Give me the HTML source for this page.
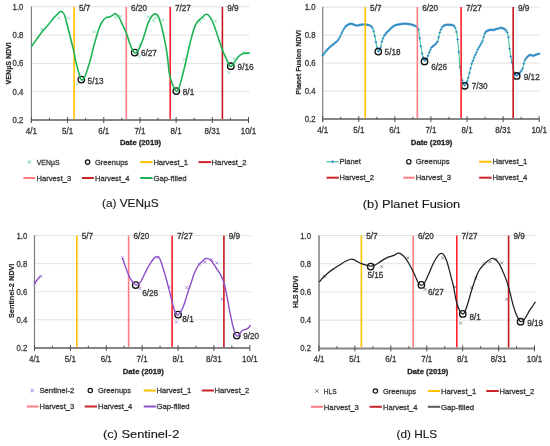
<!DOCTYPE html>
<html><head><meta charset="utf-8"><title>NDVI time series</title>
<style>html,body{margin:0;padding:0;background:#fff;}svg{display:block;filter:blur(0.3px);}</style>
</head><body>
<svg width="550" height="446" viewBox="0 0 550 446" font-family="'Liberation Sans', Arial, sans-serif">
<rect width="550" height="446" fill="#fff"/>
<line x1="31.40" y1="91.70" x2="249.50" y2="91.70" stroke="#E2E2E2" stroke-width="1"/>
<line x1="31.40" y1="63.40" x2="249.50" y2="63.40" stroke="#E2E2E2" stroke-width="1"/>
<line x1="31.40" y1="35.10" x2="249.50" y2="35.10" stroke="#E2E2E2" stroke-width="1"/>
<line x1="31.40" y1="6.80" x2="249.50" y2="6.80" stroke="#E2E2E2" stroke-width="1"/>
<text x="23.40" y="123.05" font-size="8.6" text-anchor="end" fill="#383838" stroke="#383838" stroke-width="0.3" font-weight="normal" textLength="10.8" lengthAdjust="spacingAndGlyphs">0.2</text>
<text x="23.40" y="94.75" font-size="8.6" text-anchor="end" fill="#383838" stroke="#383838" stroke-width="0.3" font-weight="normal" textLength="10.8" lengthAdjust="spacingAndGlyphs">0.4</text>
<text x="23.40" y="66.45" font-size="8.6" text-anchor="end" fill="#383838" stroke="#383838" stroke-width="0.3" font-weight="normal" textLength="10.8" lengthAdjust="spacingAndGlyphs">0.6</text>
<text x="23.40" y="38.15" font-size="8.6" text-anchor="end" fill="#383838" stroke="#383838" stroke-width="0.3" font-weight="normal" textLength="10.8" lengthAdjust="spacingAndGlyphs">0.8</text>
<text x="23.40" y="9.85" font-size="8.6" text-anchor="end" fill="#383838" stroke="#383838" stroke-width="0.3" font-weight="normal" textLength="10.8" lengthAdjust="spacingAndGlyphs">1.0</text>
<line x1="31.40" y1="6.50" x2="31.40" y2="122.50" stroke="#7F7F7F" stroke-width="1.2"/>
<line x1="31.40" y1="120.00" x2="248.50" y2="120.00" stroke="#858585" stroke-width="2"/>
<line x1="31.40" y1="117.00" x2="31.40" y2="123.00" stroke="#505050" stroke-width="1"/>
<line x1="67.58" y1="117.00" x2="67.58" y2="123.00" stroke="#505050" stroke-width="1"/>
<line x1="103.77" y1="117.00" x2="103.77" y2="123.00" stroke="#505050" stroke-width="1"/>
<line x1="139.95" y1="117.00" x2="139.95" y2="123.00" stroke="#505050" stroke-width="1"/>
<line x1="176.13" y1="117.00" x2="176.13" y2="123.00" stroke="#505050" stroke-width="1"/>
<line x1="212.32" y1="117.00" x2="212.32" y2="123.00" stroke="#505050" stroke-width="1"/>
<line x1="248.50" y1="117.00" x2="248.50" y2="123.00" stroke="#505050" stroke-width="1"/>
<line x1="49.49" y1="117.70" x2="49.49" y2="120.00" stroke="#505050" stroke-width="1"/>
<line x1="85.68" y1="117.70" x2="85.68" y2="120.00" stroke="#505050" stroke-width="1"/>
<line x1="121.86" y1="117.70" x2="121.86" y2="120.00" stroke="#505050" stroke-width="1"/>
<line x1="158.04" y1="117.70" x2="158.04" y2="120.00" stroke="#505050" stroke-width="1"/>
<line x1="194.23" y1="117.70" x2="194.23" y2="120.00" stroke="#505050" stroke-width="1"/>
<line x1="230.41" y1="117.70" x2="230.41" y2="120.00" stroke="#505050" stroke-width="1"/>
<text x="31.40" y="133.90" font-size="8.6" text-anchor="middle" fill="#383838" stroke="#383838" stroke-width="0.3" font-weight="normal" textLength="11.1" lengthAdjust="spacingAndGlyphs">4/1</text>
<text x="67.58" y="133.90" font-size="8.6" text-anchor="middle" fill="#383838" stroke="#383838" stroke-width="0.3" font-weight="normal" textLength="11.1" lengthAdjust="spacingAndGlyphs">5/1</text>
<text x="103.77" y="133.90" font-size="8.6" text-anchor="middle" fill="#383838" stroke="#383838" stroke-width="0.3" font-weight="normal" textLength="11.1" lengthAdjust="spacingAndGlyphs">6/1</text>
<text x="139.95" y="133.90" font-size="8.6" text-anchor="middle" fill="#383838" stroke="#383838" stroke-width="0.3" font-weight="normal" textLength="11.1" lengthAdjust="spacingAndGlyphs">7/1</text>
<text x="176.13" y="133.90" font-size="8.6" text-anchor="middle" fill="#383838" stroke="#383838" stroke-width="0.3" font-weight="normal" textLength="11.1" lengthAdjust="spacingAndGlyphs">8/1</text>
<text x="212.32" y="133.90" font-size="8.6" text-anchor="middle" fill="#383838" stroke="#383838" stroke-width="0.3" font-weight="normal" textLength="15.6" lengthAdjust="spacingAndGlyphs">8/31</text>
<text x="248.50" y="133.90" font-size="8.6" text-anchor="middle" fill="#383838" stroke="#383838" stroke-width="0.3" font-weight="normal" textLength="15.6" lengthAdjust="spacingAndGlyphs">10/1</text>
<text x="140.50" y="145.20" font-size="7.6" text-anchor="middle" fill="#262626" stroke="#262626" stroke-width="0.3" font-weight="bold" textLength="41.0" lengthAdjust="spacingAndGlyphs">Date (2019)</text>
<text x="0" y="0" font-size="8" font-weight="bold" fill="#262626" stroke="#262626" stroke-width="0.2" text-anchor="middle" transform="translate(10.60,63.30) rotate(-90)" textLength="42.2" lengthAdjust="spacingAndGlyphs">VENµS NDVI</text>
<path d="M40.30,27.70L43.30,30.70M40.30,30.70L43.30,27.70" stroke="#7CD8AE" stroke-width="0.8" fill="none"/>
<path d="M57.30,16.60L60.30,19.60M57.30,19.60L60.30,16.60" stroke="#7CD8AE" stroke-width="0.8" fill="none"/>
<path d="M67.00,16.60L70.00,19.60M67.00,19.60L70.00,16.60" stroke="#7CD8AE" stroke-width="0.8" fill="none"/>
<path d="M92.70,30.20L95.70,33.20M92.70,33.20L95.70,30.20" stroke="#7CD8AE" stroke-width="0.8" fill="none"/>
<path d="M75.70,82.40L78.70,85.40M75.70,85.40L78.70,82.40" stroke="#7CD8AE" stroke-width="0.8" fill="none"/>
<path d="M114.10,15.90L117.10,18.90M114.10,18.90L117.10,15.90" stroke="#7CD8AE" stroke-width="0.8" fill="none"/>
<path d="M119.10,14.90L122.10,17.90M119.10,17.90L122.10,14.90" stroke="#7CD8AE" stroke-width="0.8" fill="none"/>
<path d="M138.80,42.70L141.80,45.70M138.80,45.70L141.80,42.70" stroke="#7CD8AE" stroke-width="0.8" fill="none"/>
<path d="M137.80,54.80L140.80,57.80M137.80,57.80L140.80,54.80" stroke="#7CD8AE" stroke-width="0.8" fill="none"/>
<path d="M147.10,15.40L150.10,18.40M147.10,18.40L150.10,15.40" stroke="#7CD8AE" stroke-width="0.8" fill="none"/>
<path d="M152.00,19.10L155.00,22.10M152.00,22.10L155.00,19.10" stroke="#7CD8AE" stroke-width="0.8" fill="none"/>
<path d="M154.10,16.30L157.10,19.30M154.10,19.30L157.10,16.30" stroke="#7CD8AE" stroke-width="0.8" fill="none"/>
<path d="M161.70,18.40L164.70,21.40M161.70,21.40L164.70,18.40" stroke="#7CD8AE" stroke-width="0.8" fill="none"/>
<path d="M183.00,58.10L186.00,61.10M183.00,61.10L186.00,58.10" stroke="#7CD8AE" stroke-width="0.8" fill="none"/>
<path d="M198.30,20.30L201.30,23.30M198.30,23.30L201.30,20.30" stroke="#7CD8AE" stroke-width="0.8" fill="none"/>
<path d="M202.00,16.70L205.00,19.70M202.00,19.70L205.00,16.70" stroke="#7CD8AE" stroke-width="0.8" fill="none"/>
<path d="M213.90,19.60L216.90,22.60M213.90,22.60L216.90,19.60" stroke="#7CD8AE" stroke-width="0.8" fill="none"/>
<path d="M232.50,57.40L235.50,60.40M232.50,60.40L235.50,57.40" stroke="#7CD8AE" stroke-width="0.8" fill="none"/>
<path d="M242.00,50.60L245.00,53.60M242.00,53.60L245.00,50.60" stroke="#7CD8AE" stroke-width="0.8" fill="none"/>
<path d="M227.40,70.90L230.40,73.90M227.40,73.90L230.40,70.90" stroke="#7CD8AE" stroke-width="0.8" fill="none"/>
<circle cx="81.30" cy="79.60" r="3.2" stroke="#111" stroke-width="1.35" fill="none"/>
<circle cx="134.70" cy="52.60" r="3.2" stroke="#111" stroke-width="1.35" fill="none"/>
<circle cx="176.30" cy="91.10" r="3.2" stroke="#111" stroke-width="1.35" fill="none"/>
<circle cx="230.80" cy="66.20" r="3.2" stroke="#111" stroke-width="1.35" fill="none"/>
<line x1="74.11" y1="6.80" x2="74.11" y2="119.00" stroke="#FFC000" stroke-width="1.6"/>
<line x1="126.31" y1="6.80" x2="126.31" y2="119.00" stroke="#FF7C84" stroke-width="1.6"/>
<line x1="170.20" y1="6.80" x2="170.20" y2="119.00" stroke="#FF1F28" stroke-width="1.6"/>
<line x1="222.40" y1="6.80" x2="222.40" y2="119.00" stroke="#C8161D" stroke-width="1.6"/>
<path d="M31.50,46.50 C32.40,45.23 35.07,41.43 36.90,38.90 C38.73,36.37 40.63,33.62 42.50,31.30 C44.37,28.98 46.25,27.20 48.10,25.00 C49.95,22.80 51.98,19.95 53.60,18.10 C55.22,16.25 56.63,15.02 57.80,13.90 C58.97,12.78 59.57,11.38 60.60,11.40 C61.63,11.42 62.98,12.07 64.00,14.00 C65.02,15.93 65.80,19.72 66.70,23.00 C67.60,26.28 68.50,30.12 69.40,33.70 C70.30,37.28 71.35,41.50 72.10,44.50 C72.85,47.50 73.32,49.00 73.90,51.70 C74.48,54.40 75.02,58.02 75.60,60.70 C76.18,63.38 76.80,65.57 77.40,67.80 C78.00,70.03 78.55,72.08 79.20,74.10 C79.85,76.12 80.45,79.33 81.30,79.90 C82.15,80.47 83.28,79.23 84.30,77.50 C85.32,75.77 86.35,72.58 87.40,69.50 C88.45,66.42 89.55,62.85 90.60,59.00 C91.65,55.15 92.67,50.33 93.70,46.40 C94.73,42.47 95.75,38.80 96.80,35.40 C97.85,32.00 98.95,28.48 100.00,26.00 C101.05,23.52 102.05,21.90 103.10,20.50 C104.15,19.10 105.20,18.20 106.30,17.60 C107.40,17.00 108.67,17.28 109.70,16.90 C110.73,16.52 111.62,15.87 112.50,15.30 C113.38,14.73 114.07,13.38 115.00,13.50 C115.93,13.62 117.13,14.78 118.10,16.00 C119.07,17.22 119.88,18.95 120.80,20.80 C121.72,22.65 122.67,25.02 123.60,27.10 C124.53,29.18 125.47,30.87 126.40,33.30 C127.33,35.73 128.28,39.15 129.20,41.70 C130.12,44.25 130.98,46.75 131.90,48.60 C132.82,50.45 133.77,52.33 134.70,52.80 C135.63,53.27 136.45,52.80 137.50,51.40 C138.55,50.00 139.85,47.18 141.00,44.40 C142.15,41.62 143.25,38.17 144.40,34.70 C145.55,31.23 146.73,26.60 147.90,23.60 C149.07,20.60 150.23,18.32 151.40,16.70 C152.57,15.08 153.87,14.13 154.90,13.90 C155.93,13.67 156.68,13.92 157.60,15.30 C158.52,16.68 159.47,19.20 160.40,22.20 C161.33,25.20 162.27,29.13 163.20,33.30 C164.13,37.47 165.23,42.75 166.00,47.20 C166.77,51.65 167.23,55.55 167.80,60.00 C168.37,64.45 168.67,69.97 169.40,73.90 C170.13,77.83 171.37,81.15 172.20,83.60 C173.03,86.05 173.68,87.30 174.40,88.60 C175.12,89.90 175.78,91.40 176.50,91.40 C177.22,91.40 177.85,90.68 178.70,88.60 C179.55,86.52 180.63,82.45 181.60,78.90 C182.57,75.35 183.65,70.78 184.50,67.30 C185.35,63.82 185.97,61.22 186.70,58.00 C187.43,54.78 188.05,51.60 188.90,48.00 C189.75,44.40 190.83,39.92 191.80,36.40 C192.77,32.88 193.73,29.38 194.70,26.90 C195.67,24.42 196.63,22.83 197.60,21.50 C198.57,20.17 199.52,19.82 200.50,18.90 C201.48,17.98 202.57,16.77 203.50,16.00 C204.43,15.23 205.27,14.42 206.10,14.30 C206.93,14.18 207.60,14.42 208.50,15.30 C209.40,16.18 210.52,17.78 211.50,19.60 C212.48,21.42 213.43,23.65 214.40,26.20 C215.37,28.75 216.33,32.00 217.30,34.90 C218.27,37.80 219.23,40.82 220.20,43.60 C221.17,46.38 222.13,49.17 223.10,51.60 C224.07,54.03 225.03,56.07 226.00,58.20 C226.97,60.33 228.10,63.02 228.90,64.40 C229.70,65.78 230.03,66.65 230.80,66.50 C231.57,66.35 232.60,64.62 233.50,63.50 C234.40,62.38 235.38,60.93 236.20,59.80 C237.02,58.67 237.32,57.70 238.40,56.70 C239.48,55.70 241.25,54.40 242.70,53.80 C244.15,53.20 245.88,53.22 247.10,53.10 C248.32,52.98 249.52,53.10 250.00,53.10" stroke="#1DB355" stroke-width="1.6" fill="none"/>
<text x="78.91" y="10.50" font-size="8.6" text-anchor="start" fill="#333" stroke="#333" stroke-width="0.3" font-weight="normal" textLength="11.4" lengthAdjust="spacingAndGlyphs">5/7</text>
<text x="131.11" y="10.50" font-size="8.6" text-anchor="start" fill="#333" stroke="#333" stroke-width="0.3" font-weight="normal" textLength="15.9" lengthAdjust="spacingAndGlyphs">6/20</text>
<text x="175.00" y="10.50" font-size="8.6" text-anchor="start" fill="#333" stroke="#333" stroke-width="0.3" font-weight="normal" textLength="15.9" lengthAdjust="spacingAndGlyphs">7/27</text>
<text x="227.20" y="10.50" font-size="8.6" text-anchor="start" fill="#333" stroke="#333" stroke-width="0.3" font-weight="normal" textLength="11.4" lengthAdjust="spacingAndGlyphs">9/9</text>
<text x="87.60" y="83.65" font-size="8.6" text-anchor="start" fill="#333" stroke="#333" stroke-width="0.3" font-weight="normal" textLength="15.9" lengthAdjust="spacingAndGlyphs">5/13</text>
<text x="141.00" y="55.55" font-size="8.6" text-anchor="start" fill="#333" stroke="#333" stroke-width="0.3" font-weight="normal" textLength="15.9" lengthAdjust="spacingAndGlyphs">6/27</text>
<text x="182.80" y="94.75" font-size="8.6" text-anchor="start" fill="#333" stroke="#333" stroke-width="0.3" font-weight="normal" textLength="11.4" lengthAdjust="spacingAndGlyphs">8/1</text>
<text x="237.60" y="69.55" font-size="8.6" text-anchor="start" fill="#333" stroke="#333" stroke-width="0.3" font-weight="normal" textLength="15.9" lengthAdjust="spacingAndGlyphs">9/16</text>
<path d="M27.90,160.50L31.10,163.70M27.90,163.70L31.10,160.50" stroke="#5CCF98" stroke-width="1.0" fill="none"/>
<text x="36.70" y="164.80" font-size="7.6" text-anchor="start" fill="#383838" stroke="#383838" stroke-width="0.3" font-weight="normal" textLength="22.9" lengthAdjust="spacingAndGlyphs">VENµS</text>
<circle cx="87.60" cy="162.10" r="2.2" stroke="#111" stroke-width="1.2" fill="none"/>
<text x="95.00" y="164.80" font-size="7.6" text-anchor="start" fill="#383838" stroke="#383838" stroke-width="0.3" font-weight="normal" textLength="33.1" lengthAdjust="spacingAndGlyphs">Greenups</text>
<line x1="140.20" y1="162.10" x2="152.60" y2="162.10" stroke="#FFC000" stroke-width="2"/>
<text x="153.40" y="164.80" font-size="7.6" text-anchor="start" fill="#383838" stroke="#383838" stroke-width="0.3" font-weight="normal" textLength="34.6" lengthAdjust="spacingAndGlyphs">Harvest_1</text>
<line x1="198.50" y1="162.10" x2="211.20" y2="162.10" stroke="#CC2229" stroke-width="2"/>
<text x="211.60" y="164.80" font-size="7.6" text-anchor="start" fill="#383838" stroke="#383838" stroke-width="0.3" font-weight="normal" textLength="34.9" lengthAdjust="spacingAndGlyphs">Harvest_2</text>
<line x1="23.40" y1="178.00" x2="35.20" y2="178.00" stroke="#FF7C84" stroke-width="2"/>
<text x="36.60" y="180.70" font-size="7.6" text-anchor="start" fill="#383838" stroke="#383838" stroke-width="0.3" font-weight="normal" textLength="34.6" lengthAdjust="spacingAndGlyphs">Harvest_3</text>
<line x1="82.00" y1="178.00" x2="93.80" y2="178.00" stroke="#C8242C" stroke-width="2"/>
<text x="95.00" y="180.70" font-size="7.6" text-anchor="start" fill="#383838" stroke="#383838" stroke-width="0.3" font-weight="normal" textLength="34.4" lengthAdjust="spacingAndGlyphs">Harvest_4</text>
<line x1="140.20" y1="178.00" x2="152.60" y2="178.00" stroke="#1DB355" stroke-width="2"/>
<text x="153.40" y="180.70" font-size="7.6" text-anchor="start" fill="#383838" stroke="#383838" stroke-width="0.3" font-weight="normal" textLength="33.1" lengthAdjust="spacingAndGlyphs">Gap-filled</text>
<text x="130.30" y="207.20" font-size="11.8" text-anchor="middle" fill="#151515" stroke="#151515" stroke-width="0.12" font-weight="normal" textLength="56.6" lengthAdjust="spacingAndGlyphs">(a) VENµS</text>
<line x1="322.70" y1="91.10" x2="540.20" y2="91.10" stroke="#E2E2E2" stroke-width="1"/>
<line x1="322.70" y1="63.10" x2="540.20" y2="63.10" stroke="#E2E2E2" stroke-width="1"/>
<line x1="322.70" y1="35.10" x2="540.20" y2="35.10" stroke="#E2E2E2" stroke-width="1"/>
<line x1="322.70" y1="7.10" x2="540.20" y2="7.10" stroke="#E2E2E2" stroke-width="1"/>
<text x="315.50" y="122.15" font-size="8.6" text-anchor="end" fill="#383838" stroke="#383838" stroke-width="0.3" font-weight="normal" textLength="10.8" lengthAdjust="spacingAndGlyphs">0.2</text>
<text x="315.50" y="94.15" font-size="8.6" text-anchor="end" fill="#383838" stroke="#383838" stroke-width="0.3" font-weight="normal" textLength="10.8" lengthAdjust="spacingAndGlyphs">0.4</text>
<text x="315.50" y="66.15" font-size="8.6" text-anchor="end" fill="#383838" stroke="#383838" stroke-width="0.3" font-weight="normal" textLength="10.8" lengthAdjust="spacingAndGlyphs">0.6</text>
<text x="315.50" y="38.15" font-size="8.6" text-anchor="end" fill="#383838" stroke="#383838" stroke-width="0.3" font-weight="normal" textLength="10.8" lengthAdjust="spacingAndGlyphs">0.8</text>
<text x="315.50" y="10.15" font-size="8.6" text-anchor="end" fill="#383838" stroke="#383838" stroke-width="0.3" font-weight="normal" textLength="10.8" lengthAdjust="spacingAndGlyphs">1.0</text>
<line x1="322.70" y1="6.80" x2="322.70" y2="121.60" stroke="#7F7F7F" stroke-width="1.2"/>
<line x1="322.70" y1="119.10" x2="539.20" y2="119.10" stroke="#858585" stroke-width="2"/>
<line x1="322.70" y1="116.10" x2="322.70" y2="122.10" stroke="#505050" stroke-width="1"/>
<line x1="358.78" y1="116.10" x2="358.78" y2="122.10" stroke="#505050" stroke-width="1"/>
<line x1="394.87" y1="116.10" x2="394.87" y2="122.10" stroke="#505050" stroke-width="1"/>
<line x1="430.95" y1="116.10" x2="430.95" y2="122.10" stroke="#505050" stroke-width="1"/>
<line x1="467.03" y1="116.10" x2="467.03" y2="122.10" stroke="#505050" stroke-width="1"/>
<line x1="503.12" y1="116.10" x2="503.12" y2="122.10" stroke="#505050" stroke-width="1"/>
<line x1="539.20" y1="116.10" x2="539.20" y2="122.10" stroke="#505050" stroke-width="1"/>
<line x1="340.74" y1="116.80" x2="340.74" y2="119.10" stroke="#505050" stroke-width="1"/>
<line x1="376.82" y1="116.80" x2="376.82" y2="119.10" stroke="#505050" stroke-width="1"/>
<line x1="412.91" y1="116.80" x2="412.91" y2="119.10" stroke="#505050" stroke-width="1"/>
<line x1="448.99" y1="116.80" x2="448.99" y2="119.10" stroke="#505050" stroke-width="1"/>
<line x1="485.08" y1="116.80" x2="485.08" y2="119.10" stroke="#505050" stroke-width="1"/>
<line x1="521.16" y1="116.80" x2="521.16" y2="119.10" stroke="#505050" stroke-width="1"/>
<text x="322.70" y="133.00" font-size="8.6" text-anchor="middle" fill="#383838" stroke="#383838" stroke-width="0.3" font-weight="normal" textLength="11.1" lengthAdjust="spacingAndGlyphs">4/1</text>
<text x="358.78" y="133.00" font-size="8.6" text-anchor="middle" fill="#383838" stroke="#383838" stroke-width="0.3" font-weight="normal" textLength="11.1" lengthAdjust="spacingAndGlyphs">5/1</text>
<text x="394.87" y="133.00" font-size="8.6" text-anchor="middle" fill="#383838" stroke="#383838" stroke-width="0.3" font-weight="normal" textLength="11.1" lengthAdjust="spacingAndGlyphs">6/1</text>
<text x="430.95" y="133.00" font-size="8.6" text-anchor="middle" fill="#383838" stroke="#383838" stroke-width="0.3" font-weight="normal" textLength="11.1" lengthAdjust="spacingAndGlyphs">7/1</text>
<text x="467.03" y="133.00" font-size="8.6" text-anchor="middle" fill="#383838" stroke="#383838" stroke-width="0.3" font-weight="normal" textLength="11.1" lengthAdjust="spacingAndGlyphs">8/1</text>
<text x="503.12" y="133.00" font-size="8.6" text-anchor="middle" fill="#383838" stroke="#383838" stroke-width="0.3" font-weight="normal" textLength="15.6" lengthAdjust="spacingAndGlyphs">8/31</text>
<text x="539.20" y="133.00" font-size="8.6" text-anchor="middle" fill="#383838" stroke="#383838" stroke-width="0.3" font-weight="normal" textLength="15.6" lengthAdjust="spacingAndGlyphs">10/1</text>
<text x="431.60" y="144.90" font-size="7.6" text-anchor="middle" fill="#262626" stroke="#262626" stroke-width="0.3" font-weight="bold" textLength="41.5" lengthAdjust="spacingAndGlyphs">Date (2019)</text>
<text x="0" y="0" font-size="8" font-weight="bold" fill="#262626" stroke="#262626" stroke-width="0.2" text-anchor="middle" transform="translate(301.10,62.35) rotate(-90)" textLength="64.7" lengthAdjust="spacingAndGlyphs">Planet Fusion NDVI</text>
<path d="M322.70,55.60 C323.18,54.90 324.43,52.80 325.60,51.40 C326.77,50.00 328.32,48.47 329.70,47.20 C331.08,45.93 332.62,44.83 333.90,43.80 C335.18,42.77 336.37,42.17 337.40,41.00 C338.43,39.83 339.30,38.32 340.10,36.80 C340.90,35.28 341.38,33.52 342.20,31.90 C343.02,30.28 344.07,28.30 345.00,27.10 C345.93,25.90 346.76,25.28 347.80,24.70 C348.84,24.12 350.22,23.60 351.25,23.60 C352.28,23.60 353.07,24.35 354.00,24.70 C354.93,25.05 355.87,25.65 356.80,25.70 C357.73,25.75 358.57,25.22 359.60,25.00 C360.63,24.78 361.73,24.45 363.00,24.40 C364.27,24.35 365.92,24.48 367.20,24.70 C368.48,24.92 369.77,25.07 370.70,25.70 C371.63,26.33 372.22,27.23 372.80,28.50 C373.38,29.77 373.73,31.33 374.20,33.30 C374.67,35.27 375.15,37.98 375.60,40.30 C376.05,42.62 376.45,45.37 376.90,47.20 C377.35,49.03 377.72,51.07 378.30,51.30 C378.88,51.53 379.82,50.20 380.40,48.60 C380.98,47.00 381.22,43.78 381.80,41.70 C382.38,39.62 383.08,37.62 383.90,36.10 C384.72,34.58 385.78,33.63 386.70,32.60 C387.62,31.57 388.48,30.82 389.40,29.90 C390.32,28.98 391.17,27.92 392.20,27.10 C393.23,26.28 394.35,25.47 395.60,25.00 C396.85,24.53 398.32,24.53 399.70,24.30 C401.08,24.07 402.52,23.67 403.90,23.60 C405.28,23.53 406.62,23.72 408.00,23.90 C409.38,24.08 410.80,24.28 412.20,24.70 C413.60,25.12 415.35,25.65 416.40,26.40 C417.45,27.15 418.00,27.58 418.50,29.20 C419.00,30.82 419.05,33.57 419.40,36.10 C419.75,38.63 420.18,41.62 420.60,44.40 C421.02,47.18 421.40,50.48 421.90,52.80 C422.40,55.12 423.13,56.93 423.60,58.30 C424.07,59.67 424.22,60.88 424.70,61.00 C425.18,61.12 426.03,59.67 426.50,59.00 C426.97,58.33 426.98,58.27 427.50,57.00 C428.02,55.73 428.90,53.03 429.60,51.40 C430.30,49.77 430.90,48.25 431.70,47.20 C432.50,46.15 433.48,45.90 434.40,45.10 C435.32,44.30 436.50,43.67 437.20,42.40 C437.90,41.13 438.13,39.25 438.60,37.50 C439.07,35.75 439.42,33.63 440.00,31.90 C440.58,30.17 441.28,28.25 442.10,27.10 C442.92,25.95 443.87,25.40 444.90,25.00 C445.93,24.60 447.03,24.70 448.30,24.70 C449.57,24.70 451.45,24.72 452.50,25.00 C453.55,25.28 454.02,25.58 454.60,26.40 C455.18,27.22 455.57,28.28 456.00,29.90 C456.43,31.52 456.85,33.68 457.20,36.10 C457.55,38.52 457.80,41.25 458.10,44.40 C458.40,47.55 458.70,51.28 459.00,55.00 C459.30,58.72 459.52,63.37 459.90,66.70 C460.27,70.03 460.80,72.47 461.25,75.00 C461.70,77.53 462.03,80.13 462.60,81.90 C463.18,83.67 463.88,85.82 464.70,85.60 C465.52,85.38 466.80,82.37 467.50,80.60 C468.20,78.83 468.43,76.87 468.90,75.00 C469.37,73.13 469.83,71.25 470.30,69.40 C470.77,67.55 471.02,65.97 471.70,63.90 C472.38,61.83 473.43,59.32 474.40,57.00 C475.37,54.68 476.45,52.10 477.50,50.00 C478.55,47.90 479.82,46.02 480.70,44.40 C481.58,42.78 482.22,41.92 482.80,40.30 C483.38,38.68 483.62,36.21 484.20,34.70 C484.77,33.19 485.33,32.05 486.25,31.25 C487.17,30.45 488.43,30.12 489.70,29.90 C490.97,29.67 492.50,30.13 493.90,29.90 C495.30,29.67 496.83,28.85 498.10,28.50 C499.37,28.15 500.35,27.68 501.50,27.80 C502.65,27.92 504.07,28.52 505.00,29.20 C505.93,29.88 506.52,30.52 507.10,31.90 C507.68,33.28 508.15,35.18 508.50,37.50 C508.85,39.82 508.85,42.78 509.20,45.80 C509.55,48.82 510.22,53.23 510.60,55.60 C510.98,57.97 511.17,58.38 511.50,60.00 C511.83,61.62 512.07,62.92 512.60,65.30 C513.13,67.68 514.00,72.57 514.70,74.30 C515.40,76.03 515.87,76.05 516.80,75.70 C517.73,75.35 519.37,73.25 520.30,72.20 C521.23,71.15 521.82,70.78 522.40,69.40 C522.98,68.02 523.30,65.52 523.75,63.90 C524.20,62.28 524.41,60.98 525.10,59.70 C525.79,58.43 527.08,57.05 527.90,56.25 C528.72,55.45 529.12,54.98 530.00,54.90 C530.88,54.82 532.08,55.88 533.20,55.80 C534.32,55.72 535.57,54.78 536.70,54.40 C537.83,54.02 539.45,53.65 540.00,53.50" stroke="#44C6A0" stroke-width="1.1" fill="none"/>
<path d="M321.40,55.60h2.6M322.70,54.30v2.6M322.58,53.89h2.6M323.88,52.59v2.6M323.77,52.17h2.6M325.07,50.87v2.6M324.95,50.73h2.6M326.25,49.43v2.6M326.13,49.52h2.6M327.43,48.22v2.6M327.32,48.31h2.6M328.62,47.01v2.6M328.50,47.12h2.6M329.80,45.82v2.6M329.68,46.16h2.6M330.98,44.86v2.6M330.86,45.20h2.6M332.16,43.90v2.6M332.05,44.25h2.6M333.35,42.95v2.6M333.23,43.30h2.6M334.53,42.00v2.6M334.41,42.35h2.6M335.71,41.05v2.6M335.60,41.40h2.6M336.90,40.10v2.6M336.78,39.94h2.6M338.08,38.64v2.6M337.96,38.10h2.6M339.26,36.80v2.6M339.15,35.99h2.6M340.45,34.69v2.6M340.33,33.23h2.6M341.63,31.93v2.6M341.51,30.85h2.6M342.81,29.55v2.6M342.70,28.82h2.6M344.00,27.52v2.6M343.88,26.95h2.6M345.18,25.65v2.6M345.06,25.93h2.6M346.36,24.63v2.6M346.24,24.92h2.6M347.54,23.62v2.6M347.43,24.40h2.6M348.73,23.10v2.6M348.61,24.03h2.6M349.91,22.73v2.6M349.79,23.65h2.6M351.09,22.35v2.6M350.98,24.01h2.6M352.28,22.71v2.6M352.16,24.48h2.6M353.46,23.18v2.6M353.34,24.93h2.6M354.64,23.63v2.6M354.53,25.35h2.6M355.83,24.05v2.6M355.71,25.65h2.6M357.01,24.35v2.6M356.89,25.35h2.6M358.19,24.05v2.6M358.07,25.06h2.6M359.37,23.76v2.6M359.26,24.83h2.6M360.56,23.53v2.6M360.44,24.62h2.6M361.74,23.32v2.6M361.62,24.41h2.6M362.92,23.11v2.6M362.81,24.48h2.6M364.11,23.18v2.6M363.99,24.56h2.6M365.29,23.26v2.6M365.17,24.65h2.6M366.47,23.35v2.6M366.36,24.83h2.6M367.66,23.53v2.6M367.54,25.17h2.6M368.84,23.87v2.6M368.72,25.51h2.6M370.02,24.21v2.6M369.91,26.37h2.6M371.21,25.07v2.6M371.09,27.95h2.6M372.39,26.65v2.6M372.27,31.15h2.6M373.57,29.85v2.6M373.45,36.07h2.6M374.75,34.77v2.6M374.64,42.09h2.6M375.94,40.79v2.6M375.82,47.85h2.6M377.12,46.55v2.6M377.00,51.30h2.6M378.30,50.00v2.6M378.19,49.77h2.6M379.49,48.47v2.6M379.37,47.27h2.6M380.67,45.97v2.6M380.55,41.56h2.6M381.85,40.26v2.6M381.74,38.40h2.6M383.04,37.10v2.6M382.92,35.70h2.6M384.22,34.40v2.6M384.10,34.22h2.6M385.40,32.92v2.6M385.29,32.74h2.6M386.59,31.44v2.6M386.47,31.53h2.6M387.77,30.23v2.6M387.65,30.35h2.6M388.95,29.05v2.6M388.83,29.17h2.6M390.13,27.87v2.6M390.02,27.98h2.6M391.32,26.68v2.6M391.20,26.91h2.6M392.50,25.61v2.6M392.38,26.18h2.6M393.68,24.88v2.6M393.57,25.45h2.6M394.87,24.15v2.6M394.75,24.92h2.6M396.05,23.62v2.6M395.93,24.72h2.6M397.23,23.42v2.6M397.12,24.52h2.6M398.42,23.22v2.6M398.30,24.32h2.6M399.60,23.02v2.6M399.48,24.12h2.6M400.78,22.82v2.6M400.67,23.92h2.6M401.97,22.62v2.6M401.85,23.73h2.6M403.15,22.43v2.6M403.03,23.63h2.6M404.33,22.33v2.6M404.21,23.72h2.6M405.51,22.42v2.6M405.40,23.80h2.6M406.70,22.50v2.6M406.58,23.89h2.6M407.88,22.59v2.6M407.76,24.10h2.6M409.06,22.80v2.6M408.95,24.33h2.6M410.25,23.03v2.6M410.13,24.55h2.6M411.43,23.25v2.6M411.31,24.87h2.6M412.61,23.57v2.6M412.50,25.35h2.6M413.80,24.05v2.6M413.68,25.82h2.6M414.98,24.52v2.6M414.86,26.30h2.6M416.16,25.00v2.6M416.04,27.66h2.6M417.34,26.36v2.6M417.23,29.41h2.6M418.53,28.11v2.6M418.41,38.25h2.6M419.71,36.95v2.6M419.59,46.30h2.6M420.89,45.00v2.6M420.78,53.37h2.6M422.08,52.07v2.6M421.96,57.20h2.6M423.26,55.90v2.6M423.14,60.37h2.6M424.44,59.07v2.6M424.33,59.97h2.6M425.63,58.67v2.6M425.51,58.38h2.6M426.81,57.08v2.6M426.69,55.69h2.6M427.99,54.39v2.6M427.88,52.53h2.6M429.18,51.23v2.6M429.06,49.88h2.6M430.36,48.58v2.6M430.24,47.52h2.6M431.54,46.22v2.6M431.42,46.40h2.6M432.72,45.10v2.6M432.61,45.48h2.6M433.91,44.18v2.6M433.79,44.43h2.6M435.09,43.13v2.6M434.97,43.29h2.6M436.27,41.99v2.6M436.16,41.50h2.6M437.46,40.20v2.6M437.34,37.34h2.6M438.64,36.04v2.6M438.52,32.61h2.6M439.82,31.31v2.6M439.71,29.60h2.6M441.01,28.30v2.6M440.89,27.03h2.6M442.19,25.73v2.6M442.07,26.15h2.6M443.37,24.85v2.6M443.26,25.26h2.6M444.56,23.96v2.6M444.44,24.93h2.6M445.74,23.63v2.6M445.62,24.82h2.6M446.92,23.52v2.6M446.80,24.72h2.6M448.10,23.42v2.6M447.99,24.77h2.6M449.29,23.47v2.6M449.17,24.86h2.6M450.47,23.56v2.6M450.35,24.94h2.6M451.65,23.64v2.6M451.54,25.22h2.6M452.84,23.92v2.6M452.72,26.01h2.6M454.02,24.71v2.6M453.90,27.91h2.6M455.20,26.61v2.6M455.09,31.89h2.6M456.39,30.59v2.6M456.27,39.50h2.6M457.57,38.20v2.6M457.45,52.08h2.6M458.75,50.78v2.6M458.63,66.92h2.6M459.93,65.62v2.6M459.82,74.19h2.6M461.12,72.89v2.6M461.00,80.37h2.6M462.30,79.07v2.6M462.18,83.46h2.6M463.48,82.16v2.6M463.37,85.54h2.6M464.67,84.24v2.6M464.55,83.55h2.6M465.85,82.25v2.6M465.73,81.43h2.6M467.03,80.13v2.6M466.92,77.73h2.6M468.22,76.43v2.6M468.10,73.00h2.6M469.40,71.70v2.6M469.28,68.29h2.6M470.58,66.99v2.6M470.47,63.73h2.6M471.77,62.43v2.6M471.65,60.71h2.6M472.95,59.41v2.6M472.83,57.69h2.6M474.13,56.39v2.6M474.01,54.93h2.6M475.31,53.63v2.6M475.20,52.26h2.6M476.50,50.96v2.6M476.38,49.68h2.6M477.68,48.38v2.6M477.56,47.61h2.6M478.86,46.31v2.6M478.75,45.54h2.6M480.05,44.24v2.6M479.93,43.37h2.6M481.23,42.07v2.6M481.11,41.06h2.6M482.41,39.76v2.6M482.30,37.12h2.6M483.60,35.82v2.6M483.48,33.73h2.6M484.78,32.43v2.6M484.66,31.73h2.6M485.96,30.43v2.6M485.85,30.90h2.6M487.15,29.60v2.6M487.03,30.44h2.6M488.33,29.14v2.6M488.21,29.97h2.6M489.51,28.67v2.6M489.39,29.90h2.6M490.69,28.60v2.6M490.58,29.90h2.6M491.88,28.60v2.6M491.76,29.90h2.6M493.06,28.60v2.6M492.94,29.79h2.6M494.24,28.49v2.6M494.13,29.39h2.6M495.43,28.09v2.6M495.31,29.00h2.6M496.61,27.70v2.6M496.49,28.60h2.6M497.79,27.30v2.6M497.68,28.32h2.6M498.98,27.02v2.6M498.86,28.08h2.6M500.16,26.78v2.6M500.04,27.83h2.6M501.34,26.53v2.6M501.23,28.21h2.6M502.53,26.91v2.6M502.41,28.68h2.6M503.71,27.38v2.6M503.59,29.16h2.6M504.89,27.86v2.6M504.77,30.58h2.6M506.07,29.28v2.6M505.96,32.53h2.6M507.26,31.23v2.6M507.14,37.26h2.6M508.44,35.96v2.6M508.32,48.76h2.6M509.62,47.46v2.6M509.51,56.61h2.6M510.81,55.31v2.6M510.69,62.36h2.6M511.99,61.06v2.6M511.87,67.75h2.6M513.17,66.45v2.6M513.06,72.82h2.6M514.36,71.52v2.6M514.24,74.86h2.6M515.54,73.56v2.6M515.42,75.65h2.6M516.72,74.35v2.6M516.60,74.60h2.6M517.90,73.30v2.6M517.79,73.41h2.6M519.09,72.11v2.6M518.97,72.23h2.6M520.27,70.93v2.6M520.15,70.66h2.6M521.45,69.36v2.6M521.34,68.43h2.6M522.64,67.13v2.6M522.52,63.68h2.6M523.82,62.38v2.6M523.70,60.00h2.6M525.00,58.70v2.6M524.89,58.36h2.6M526.19,57.06v2.6M526.07,56.90h2.6M527.37,55.60v2.6M527.25,55.83h2.6M528.55,54.53v2.6M528.44,55.07h2.6M529.74,53.77v2.6M529.62,55.16h2.6M530.92,53.86v2.6M530.80,55.49h2.6M532.10,54.19v2.6M531.98,55.77h2.6M533.28,54.47v2.6M533.17,55.29h2.6M534.47,53.99v2.6M534.35,54.82h2.6M535.65,53.52v2.6M535.53,54.36h2.6M536.83,53.06v2.6M536.72,54.04h2.6M538.02,52.74v2.6M537.90,53.72h2.6M539.20,52.42v2.6" stroke="#2F88C8" stroke-width="0.9" fill="none" opacity="0.9"/>
<circle cx="378.30" cy="51.60" r="3.2" stroke="#111" stroke-width="1.35" fill="none"/>
<circle cx="424.50" cy="61.40" r="3.2" stroke="#111" stroke-width="1.35" fill="none"/>
<circle cx="464.70" cy="85.80" r="3.2" stroke="#111" stroke-width="1.35" fill="none"/>
<circle cx="516.70" cy="75.90" r="3.2" stroke="#111" stroke-width="1.35" fill="none"/>
<line x1="365.29" y1="7.10" x2="365.29" y2="118.10" stroke="#FFC000" stroke-width="1.6"/>
<line x1="417.34" y1="7.10" x2="417.34" y2="118.10" stroke="#FF7C84" stroke-width="1.6"/>
<line x1="461.12" y1="7.10" x2="461.12" y2="118.10" stroke="#FF1F28" stroke-width="1.6"/>
<line x1="513.17" y1="7.10" x2="513.17" y2="118.10" stroke="#C8161D" stroke-width="1.6"/>
<text x="370.09" y="10.80" font-size="8.6" text-anchor="start" fill="#333" stroke="#333" stroke-width="0.3" font-weight="normal" textLength="11.4" lengthAdjust="spacingAndGlyphs">5/7</text>
<text x="422.14" y="10.80" font-size="8.6" text-anchor="start" fill="#333" stroke="#333" stroke-width="0.3" font-weight="normal" textLength="15.9" lengthAdjust="spacingAndGlyphs">6/20</text>
<text x="465.92" y="10.80" font-size="8.6" text-anchor="start" fill="#333" stroke="#333" stroke-width="0.3" font-weight="normal" textLength="15.9" lengthAdjust="spacingAndGlyphs">7/27</text>
<text x="517.97" y="10.80" font-size="8.6" text-anchor="start" fill="#333" stroke="#333" stroke-width="0.3" font-weight="normal" textLength="11.4" lengthAdjust="spacingAndGlyphs">9/9</text>
<text x="384.60" y="54.75" font-size="8.6" text-anchor="start" fill="#333" stroke="#333" stroke-width="0.3" font-weight="normal" textLength="15.9" lengthAdjust="spacingAndGlyphs">5/18</text>
<text x="431.25" y="70.45" font-size="8.6" text-anchor="start" fill="#333" stroke="#333" stroke-width="0.3" font-weight="normal" textLength="15.9" lengthAdjust="spacingAndGlyphs">6/26</text>
<text x="471.70" y="89.15" font-size="8.6" text-anchor="start" fill="#333" stroke="#333" stroke-width="0.3" font-weight="normal" textLength="15.9" lengthAdjust="spacingAndGlyphs">7/30</text>
<text x="523.80" y="79.55" font-size="8.6" text-anchor="start" fill="#333" stroke="#333" stroke-width="0.3" font-weight="normal" textLength="15.9" lengthAdjust="spacingAndGlyphs">9/12</text>
<line x1="326.60" y1="161.70" x2="338.80" y2="161.70" stroke="#44C6A0" stroke-width="1.2"/>
<path d="M331.10,161.70h3.2M332.70,160.10v3.2" stroke="#2F88C8" stroke-width="0.9"/>
<text x="339.60" y="164.40" font-size="7.6" text-anchor="start" fill="#383838" stroke="#383838" stroke-width="0.3" font-weight="normal" textLength="21.3" lengthAdjust="spacingAndGlyphs">Planet</text>
<circle cx="408.80" cy="161.70" r="2.2" stroke="#111" stroke-width="1.2" fill="none"/>
<text x="415.80" y="164.40" font-size="7.6" text-anchor="start" fill="#383838" stroke="#383838" stroke-width="0.3" font-weight="normal" textLength="33.8" lengthAdjust="spacingAndGlyphs">Greenups</text>
<line x1="479.10" y1="161.70" x2="491.60" y2="161.70" stroke="#FFC000" stroke-width="2"/>
<text x="492.40" y="164.40" font-size="7.6" text-anchor="start" fill="#383838" stroke="#383838" stroke-width="0.3" font-weight="normal" textLength="35.0" lengthAdjust="spacingAndGlyphs">Harvest_1</text>
<line x1="326.60" y1="177.70" x2="338.80" y2="177.70" stroke="#CC2229" stroke-width="2"/>
<text x="339.60" y="180.40" font-size="7.6" text-anchor="start" fill="#383838" stroke="#383838" stroke-width="0.3" font-weight="normal" textLength="34.3" lengthAdjust="spacingAndGlyphs">Harvest_2</text>
<line x1="403.30" y1="177.70" x2="414.60" y2="177.70" stroke="#FF7C84" stroke-width="2"/>
<text x="415.80" y="180.40" font-size="7.6" text-anchor="start" fill="#383838" stroke="#383838" stroke-width="0.3" font-weight="normal" textLength="35.2" lengthAdjust="spacingAndGlyphs">Harvest_3</text>
<line x1="479.10" y1="177.70" x2="491.60" y2="177.70" stroke="#C8242C" stroke-width="2"/>
<text x="492.40" y="180.40" font-size="7.6" text-anchor="start" fill="#383838" stroke="#383838" stroke-width="0.3" font-weight="normal" textLength="35.0" lengthAdjust="spacingAndGlyphs">Harvest_4</text>
<text x="411.50" y="207.50" font-size="11.8" text-anchor="middle" fill="#151515" stroke="#151515" stroke-width="0.12" font-weight="normal" textLength="97.5" lengthAdjust="spacingAndGlyphs">(b) Planet Fusion</text>
<line x1="34.50" y1="319.82" x2="250.80" y2="319.82" stroke="#E2E2E2" stroke-width="1"/>
<line x1="34.50" y1="291.75" x2="250.80" y2="291.75" stroke="#E2E2E2" stroke-width="1"/>
<line x1="34.50" y1="263.67" x2="250.80" y2="263.67" stroke="#E2E2E2" stroke-width="1"/>
<line x1="34.50" y1="235.60" x2="250.80" y2="235.60" stroke="#E2E2E2" stroke-width="1"/>
<text x="27.30" y="350.95" font-size="8.6" text-anchor="end" fill="#383838" stroke="#383838" stroke-width="0.3" font-weight="normal" textLength="10.8" lengthAdjust="spacingAndGlyphs">0.2</text>
<text x="27.30" y="322.88" font-size="8.6" text-anchor="end" fill="#383838" stroke="#383838" stroke-width="0.3" font-weight="normal" textLength="10.8" lengthAdjust="spacingAndGlyphs">0.4</text>
<text x="27.30" y="294.80" font-size="8.6" text-anchor="end" fill="#383838" stroke="#383838" stroke-width="0.3" font-weight="normal" textLength="10.8" lengthAdjust="spacingAndGlyphs">0.6</text>
<text x="27.30" y="266.72" font-size="8.6" text-anchor="end" fill="#383838" stroke="#383838" stroke-width="0.3" font-weight="normal" textLength="10.8" lengthAdjust="spacingAndGlyphs">0.8</text>
<text x="27.30" y="238.65" font-size="8.6" text-anchor="end" fill="#383838" stroke="#383838" stroke-width="0.3" font-weight="normal" textLength="10.8" lengthAdjust="spacingAndGlyphs">1.0</text>
<line x1="34.50" y1="235.30" x2="34.50" y2="350.40" stroke="#7F7F7F" stroke-width="1.2"/>
<line x1="34.50" y1="347.90" x2="249.80" y2="347.90" stroke="#858585" stroke-width="2"/>
<line x1="34.50" y1="344.90" x2="34.50" y2="350.90" stroke="#505050" stroke-width="1"/>
<line x1="70.38" y1="344.90" x2="70.38" y2="350.90" stroke="#505050" stroke-width="1"/>
<line x1="106.27" y1="344.90" x2="106.27" y2="350.90" stroke="#505050" stroke-width="1"/>
<line x1="142.15" y1="344.90" x2="142.15" y2="350.90" stroke="#505050" stroke-width="1"/>
<line x1="178.03" y1="344.90" x2="178.03" y2="350.90" stroke="#505050" stroke-width="1"/>
<line x1="213.92" y1="344.90" x2="213.92" y2="350.90" stroke="#505050" stroke-width="1"/>
<line x1="249.80" y1="344.90" x2="249.80" y2="350.90" stroke="#505050" stroke-width="1"/>
<line x1="52.44" y1="345.60" x2="52.44" y2="347.90" stroke="#505050" stroke-width="1"/>
<line x1="88.32" y1="345.60" x2="88.32" y2="347.90" stroke="#505050" stroke-width="1"/>
<line x1="124.21" y1="345.60" x2="124.21" y2="347.90" stroke="#505050" stroke-width="1"/>
<line x1="160.09" y1="345.60" x2="160.09" y2="347.90" stroke="#505050" stroke-width="1"/>
<line x1="195.97" y1="345.60" x2="195.97" y2="347.90" stroke="#505050" stroke-width="1"/>
<line x1="231.86" y1="345.60" x2="231.86" y2="347.90" stroke="#505050" stroke-width="1"/>
<text x="34.50" y="361.80" font-size="8.6" text-anchor="middle" fill="#383838" stroke="#383838" stroke-width="0.3" font-weight="normal" textLength="11.1" lengthAdjust="spacingAndGlyphs">4/1</text>
<text x="70.38" y="361.80" font-size="8.6" text-anchor="middle" fill="#383838" stroke="#383838" stroke-width="0.3" font-weight="normal" textLength="11.1" lengthAdjust="spacingAndGlyphs">5/1</text>
<text x="106.27" y="361.80" font-size="8.6" text-anchor="middle" fill="#383838" stroke="#383838" stroke-width="0.3" font-weight="normal" textLength="11.1" lengthAdjust="spacingAndGlyphs">6/1</text>
<text x="142.15" y="361.80" font-size="8.6" text-anchor="middle" fill="#383838" stroke="#383838" stroke-width="0.3" font-weight="normal" textLength="11.1" lengthAdjust="spacingAndGlyphs">7/1</text>
<text x="178.03" y="361.80" font-size="8.6" text-anchor="middle" fill="#383838" stroke="#383838" stroke-width="0.3" font-weight="normal" textLength="11.1" lengthAdjust="spacingAndGlyphs">8/1</text>
<text x="213.92" y="361.80" font-size="8.6" text-anchor="middle" fill="#383838" stroke="#383838" stroke-width="0.3" font-weight="normal" textLength="15.6" lengthAdjust="spacingAndGlyphs">8/31</text>
<text x="249.80" y="361.80" font-size="8.6" text-anchor="middle" fill="#383838" stroke="#383838" stroke-width="0.3" font-weight="normal" textLength="15.6" lengthAdjust="spacingAndGlyphs">10/1</text>
<text x="143.30" y="373.50" font-size="7.6" text-anchor="middle" fill="#262626" stroke="#262626" stroke-width="0.3" font-weight="bold" textLength="41.0" lengthAdjust="spacingAndGlyphs">Date (2019)</text>
<text x="0" y="0" font-size="8" font-weight="bold" fill="#262626" stroke="#262626" stroke-width="0.2" text-anchor="middle" transform="translate(14.00,290.85) rotate(-90)" textLength="54.3" lengthAdjust="spacingAndGlyphs">Sentinel-2 NDVI</text>
<path d="M33.30,281.50L36.30,284.50M33.30,284.50L36.30,281.50" stroke="#A07AD8" stroke-width="0.8" fill="none"/>
<path d="M39.30,274.80L42.30,277.80M39.30,277.80L42.30,274.80" stroke="#A07AD8" stroke-width="0.8" fill="none"/>
<path d="M121.00,256.10L124.00,259.10M121.00,259.10L124.00,256.10" stroke="#A07AD8" stroke-width="0.8" fill="none"/>
<path d="M156.40,255.90L159.40,258.90M156.40,258.90L159.40,255.90" stroke="#A07AD8" stroke-width="0.8" fill="none"/>
<path d="M138.40,286.90L141.40,289.90M138.40,289.90L141.40,286.90" stroke="#A07AD8" stroke-width="0.8" fill="none"/>
<path d="M167.90,285.50L170.90,288.50M167.90,288.50L170.90,285.50" stroke="#A07AD8" stroke-width="0.8" fill="none"/>
<path d="M174.90,320.70L177.90,323.70M174.90,323.70L177.90,320.70" stroke="#A07AD8" stroke-width="0.8" fill="none"/>
<path d="M185.10,286.10L188.10,289.10M185.10,289.10L188.10,286.10" stroke="#A07AD8" stroke-width="0.8" fill="none"/>
<path d="M198.20,262.90L201.20,265.90M198.20,265.90L201.20,262.90" stroke="#A07AD8" stroke-width="0.8" fill="none"/>
<path d="M203.30,260.70L206.30,263.70M203.30,263.70L206.30,260.70" stroke="#A07AD8" stroke-width="0.8" fill="none"/>
<path d="M209.90,258.20L212.90,261.20M209.90,261.20L212.90,258.20" stroke="#A07AD8" stroke-width="0.8" fill="none"/>
<path d="M215.40,261.40L218.40,264.40M215.40,264.40L218.40,261.40" stroke="#A07AD8" stroke-width="0.8" fill="none"/>
<path d="M220.80,297.80L223.80,300.80M220.80,300.80L223.80,297.80" stroke="#A07AD8" stroke-width="0.8" fill="none"/>
<circle cx="135.70" cy="285.10" r="3.2" stroke="#111" stroke-width="1.35" fill="none"/>
<circle cx="178.10" cy="314.60" r="3.2" stroke="#111" stroke-width="1.35" fill="none"/>
<circle cx="236.80" cy="335.60" r="3.2" stroke="#111" stroke-width="1.35" fill="none"/>
<line x1="76.85" y1="235.60" x2="76.85" y2="346.90" stroke="#FFC000" stroke-width="1.6"/>
<line x1="128.62" y1="235.60" x2="128.62" y2="346.90" stroke="#FF7C84" stroke-width="1.6"/>
<line x1="172.15" y1="235.60" x2="172.15" y2="346.90" stroke="#FF1F28" stroke-width="1.6"/>
<line x1="223.92" y1="235.60" x2="223.92" y2="346.90" stroke="#C8161D" stroke-width="1.6"/>
<path d="M34.50,283.60 C35.00,282.92 36.45,280.78 37.50,279.50 C38.55,278.22 40.25,276.50 40.80,275.90" stroke="#8B4FC8" stroke-width="1.4" fill="none"/>
<path d="M122.50,257.90 C122.97,259.28 124.37,263.55 125.30,266.20 C126.23,268.85 127.18,271.60 128.10,273.80 C129.02,276.00 129.88,277.88 130.80,279.40 C131.72,280.92 132.78,281.98 133.60,282.90 C134.42,283.82 134.88,284.67 135.70,284.90 C136.52,285.12 137.57,284.93 138.50,284.25 C139.43,283.57 140.22,282.54 141.25,280.80 C142.28,279.06 143.54,276.12 144.70,273.80 C145.86,271.48 147.03,268.98 148.20,266.90 C149.37,264.82 150.67,262.80 151.70,261.30 C152.73,259.80 153.48,258.70 154.40,257.90 C155.32,257.10 156.38,256.50 157.20,256.50 C158.02,256.50 158.60,256.87 159.30,257.90 C160.00,258.93 160.70,260.73 161.40,262.70 C162.10,264.67 162.80,267.38 163.50,269.70 C164.20,272.02 164.92,274.22 165.60,276.60 C166.28,278.98 166.92,281.45 167.60,284.00 C168.28,286.55 169.00,289.18 169.70,291.90 C170.40,294.62 171.10,297.52 171.80,300.30 C172.50,303.08 173.20,306.40 173.90,308.60 C174.60,310.80 175.30,312.45 176.00,313.50 C176.70,314.55 177.30,315.20 178.10,314.90 C178.90,314.60 179.87,313.25 180.80,311.70 C181.73,310.15 182.73,308.12 183.70,305.60 C184.67,303.08 185.63,299.67 186.60,296.60 C187.57,293.53 188.77,289.42 189.50,287.20 C190.23,284.98 190.27,285.42 191.00,283.30 C191.73,281.18 192.93,277.05 193.90,274.50 C194.87,271.95 195.83,269.82 196.80,268.00 C197.77,266.18 198.73,264.73 199.70,263.60 C200.67,262.47 201.63,262.05 202.60,261.20 C203.57,260.35 204.52,258.90 205.50,258.50 C206.48,258.10 207.52,258.43 208.50,258.80 C209.48,259.17 210.43,259.65 211.40,260.70 C212.37,261.75 213.33,263.63 214.30,265.10 C215.27,266.57 216.23,268.05 217.20,269.50 C218.17,270.95 219.25,272.35 220.10,273.80 C220.95,275.25 221.57,276.38 222.30,278.20 C223.03,280.02 223.90,282.60 224.50,284.70 C225.10,286.80 225.30,287.83 225.90,290.80 C226.50,293.77 227.37,298.62 228.10,302.50 C228.83,306.38 229.57,310.47 230.30,314.10 C231.03,317.73 231.78,321.35 232.50,324.30 C233.22,327.25 233.82,329.82 234.60,331.80 C235.38,333.78 236.30,335.93 237.20,336.20 C238.10,336.47 239.22,334.30 240.00,333.40 C240.78,332.50 240.98,331.47 241.90,330.80 C242.82,330.13 244.40,329.88 245.50,329.40 C246.60,328.92 247.65,328.63 248.50,327.90 C249.35,327.17 250.25,325.48 250.60,325.00" stroke="#8B4FC8" stroke-width="1.4" fill="none"/>
<text x="81.65" y="239.30" font-size="8.6" text-anchor="start" fill="#333" stroke="#333" stroke-width="0.3" font-weight="normal" textLength="11.4" lengthAdjust="spacingAndGlyphs">5/7</text>
<text x="133.42" y="239.30" font-size="8.6" text-anchor="start" fill="#333" stroke="#333" stroke-width="0.3" font-weight="normal" textLength="15.9" lengthAdjust="spacingAndGlyphs">6/20</text>
<text x="176.95" y="239.30" font-size="8.6" text-anchor="start" fill="#333" stroke="#333" stroke-width="0.3" font-weight="normal" textLength="15.9" lengthAdjust="spacingAndGlyphs">7/27</text>
<text x="228.72" y="239.30" font-size="8.6" text-anchor="start" fill="#333" stroke="#333" stroke-width="0.3" font-weight="normal" textLength="11.4" lengthAdjust="spacingAndGlyphs">9/9</text>
<text x="142.20" y="296.15" font-size="8.6" text-anchor="start" fill="#333" stroke="#333" stroke-width="0.3" font-weight="normal" textLength="15.9" lengthAdjust="spacingAndGlyphs">6/26</text>
<text x="182.30" y="322.25" font-size="8.6" text-anchor="start" fill="#333" stroke="#333" stroke-width="0.3" font-weight="normal" textLength="11.4" lengthAdjust="spacingAndGlyphs">8/1</text>
<text x="243.20" y="338.95" font-size="8.6" text-anchor="start" fill="#333" stroke="#333" stroke-width="0.3" font-weight="normal" textLength="15.9" lengthAdjust="spacingAndGlyphs">9/20</text>
<path d="M30.60,388.80L34.00,392.20M30.60,392.20L34.00,388.80" stroke="#A07AD8" stroke-width="1.0" fill="none"/>
<text x="39.40" y="393.20" font-size="7.6" text-anchor="start" fill="#383838" stroke="#383838" stroke-width="0.3" font-weight="normal" textLength="34.9" lengthAdjust="spacingAndGlyphs">Sentinel-2</text>
<circle cx="90.30" cy="390.50" r="2.2" stroke="#111" stroke-width="1.2" fill="none"/>
<text x="98.00" y="393.20" font-size="7.6" text-anchor="start" fill="#383838" stroke="#383838" stroke-width="0.3" font-weight="normal" textLength="33.0" lengthAdjust="spacingAndGlyphs">Greenups</text>
<line x1="143.70" y1="390.50" x2="155.80" y2="390.50" stroke="#FFC000" stroke-width="2"/>
<text x="156.40" y="393.20" font-size="7.6" text-anchor="start" fill="#383838" stroke="#383838" stroke-width="0.3" font-weight="normal" textLength="34.8" lengthAdjust="spacingAndGlyphs">Harvest_1</text>
<line x1="201.70" y1="390.50" x2="214.00" y2="390.50" stroke="#CC2229" stroke-width="2"/>
<text x="214.60" y="393.20" font-size="7.6" text-anchor="start" fill="#383838" stroke="#383838" stroke-width="0.3" font-weight="normal" textLength="34.6" lengthAdjust="spacingAndGlyphs">Harvest_2</text>
<line x1="26.70" y1="406.50" x2="38.60" y2="406.50" stroke="#FF7C84" stroke-width="2"/>
<text x="39.40" y="409.20" font-size="7.6" text-anchor="start" fill="#383838" stroke="#383838" stroke-width="0.3" font-weight="normal" textLength="34.9" lengthAdjust="spacingAndGlyphs">Harvest_3</text>
<line x1="84.70" y1="406.50" x2="97.00" y2="406.50" stroke="#C8242C" stroke-width="2"/>
<text x="98.00" y="409.20" font-size="7.6" text-anchor="start" fill="#383838" stroke="#383838" stroke-width="0.3" font-weight="normal" textLength="34.3" lengthAdjust="spacingAndGlyphs">Harvest_4</text>
<line x1="143.70" y1="406.50" x2="155.80" y2="406.50" stroke="#8B4FC8" stroke-width="2"/>
<text x="156.40" y="409.20" font-size="7.6" text-anchor="start" fill="#383838" stroke="#383838" stroke-width="0.3" font-weight="normal" textLength="33.2" lengthAdjust="spacingAndGlyphs">Gap-filled</text>
<text x="141.10" y="437.60" font-size="11.8" text-anchor="middle" fill="#151515" stroke="#151515" stroke-width="0.12" font-weight="normal" textLength="76.4" lengthAdjust="spacingAndGlyphs">(c) Sentinel-2</text>
<line x1="319.00" y1="320.17" x2="535.50" y2="320.17" stroke="#E2E2E2" stroke-width="1"/>
<line x1="319.00" y1="291.95" x2="535.50" y2="291.95" stroke="#E2E2E2" stroke-width="1"/>
<line x1="319.00" y1="263.72" x2="535.50" y2="263.72" stroke="#E2E2E2" stroke-width="1"/>
<line x1="319.00" y1="235.50" x2="535.50" y2="235.50" stroke="#E2E2E2" stroke-width="1"/>
<text x="311.00" y="351.45" font-size="8.6" text-anchor="end" fill="#383838" stroke="#383838" stroke-width="0.3" font-weight="normal" textLength="10.8" lengthAdjust="spacingAndGlyphs">0.2</text>
<text x="311.00" y="323.22" font-size="8.6" text-anchor="end" fill="#383838" stroke="#383838" stroke-width="0.3" font-weight="normal" textLength="10.8" lengthAdjust="spacingAndGlyphs">0.4</text>
<text x="311.00" y="295.00" font-size="8.6" text-anchor="end" fill="#383838" stroke="#383838" stroke-width="0.3" font-weight="normal" textLength="10.8" lengthAdjust="spacingAndGlyphs">0.6</text>
<text x="311.00" y="266.77" font-size="8.6" text-anchor="end" fill="#383838" stroke="#383838" stroke-width="0.3" font-weight="normal" textLength="10.8" lengthAdjust="spacingAndGlyphs">0.8</text>
<text x="311.00" y="238.55" font-size="8.6" text-anchor="end" fill="#383838" stroke="#383838" stroke-width="0.3" font-weight="normal" textLength="10.8" lengthAdjust="spacingAndGlyphs">1.0</text>
<line x1="319.00" y1="235.20" x2="319.00" y2="350.90" stroke="#9A9A9A" stroke-width="1.9"/>
<line x1="319.00" y1="348.40" x2="534.50" y2="348.40" stroke="#858585" stroke-width="2"/>
<line x1="319.00" y1="345.40" x2="319.00" y2="351.40" stroke="#505050" stroke-width="1"/>
<line x1="354.92" y1="345.40" x2="354.92" y2="351.40" stroke="#505050" stroke-width="1"/>
<line x1="390.83" y1="345.40" x2="390.83" y2="351.40" stroke="#505050" stroke-width="1"/>
<line x1="426.75" y1="345.40" x2="426.75" y2="351.40" stroke="#505050" stroke-width="1"/>
<line x1="462.67" y1="345.40" x2="462.67" y2="351.40" stroke="#505050" stroke-width="1"/>
<line x1="498.58" y1="345.40" x2="498.58" y2="351.40" stroke="#505050" stroke-width="1"/>
<line x1="534.50" y1="345.40" x2="534.50" y2="351.40" stroke="#505050" stroke-width="1"/>
<line x1="336.96" y1="346.10" x2="336.96" y2="348.40" stroke="#505050" stroke-width="1"/>
<line x1="372.88" y1="346.10" x2="372.88" y2="348.40" stroke="#505050" stroke-width="1"/>
<line x1="408.79" y1="346.10" x2="408.79" y2="348.40" stroke="#505050" stroke-width="1"/>
<line x1="444.71" y1="346.10" x2="444.71" y2="348.40" stroke="#505050" stroke-width="1"/>
<line x1="480.62" y1="346.10" x2="480.62" y2="348.40" stroke="#505050" stroke-width="1"/>
<line x1="516.54" y1="346.10" x2="516.54" y2="348.40" stroke="#505050" stroke-width="1"/>
<text x="319.00" y="362.30" font-size="8.6" text-anchor="middle" fill="#383838" stroke="#383838" stroke-width="0.3" font-weight="normal" textLength="11.1" lengthAdjust="spacingAndGlyphs">4/1</text>
<text x="354.92" y="362.30" font-size="8.6" text-anchor="middle" fill="#383838" stroke="#383838" stroke-width="0.3" font-weight="normal" textLength="11.1" lengthAdjust="spacingAndGlyphs">5/1</text>
<text x="390.83" y="362.30" font-size="8.6" text-anchor="middle" fill="#383838" stroke="#383838" stroke-width="0.3" font-weight="normal" textLength="11.1" lengthAdjust="spacingAndGlyphs">6/1</text>
<text x="426.75" y="362.30" font-size="8.6" text-anchor="middle" fill="#383838" stroke="#383838" stroke-width="0.3" font-weight="normal" textLength="11.1" lengthAdjust="spacingAndGlyphs">7/1</text>
<text x="462.67" y="362.30" font-size="8.6" text-anchor="middle" fill="#383838" stroke="#383838" stroke-width="0.3" font-weight="normal" textLength="11.1" lengthAdjust="spacingAndGlyphs">8/1</text>
<text x="498.58" y="362.30" font-size="8.6" text-anchor="middle" fill="#383838" stroke="#383838" stroke-width="0.3" font-weight="normal" textLength="15.6" lengthAdjust="spacingAndGlyphs">8/31</text>
<text x="534.50" y="362.30" font-size="8.6" text-anchor="middle" fill="#383838" stroke="#383838" stroke-width="0.3" font-weight="normal" textLength="15.6" lengthAdjust="spacingAndGlyphs">10/1</text>
<text x="427.80" y="374.30" font-size="7.6" text-anchor="middle" fill="#262626" stroke="#262626" stroke-width="0.3" font-weight="bold" textLength="41.0" lengthAdjust="spacingAndGlyphs">Date (2019)</text>
<text x="0" y="0" font-size="8" font-weight="bold" fill="#262626" stroke="#262626" stroke-width="0.2" text-anchor="middle" transform="translate(297.60,292.00) rotate(-90)" textLength="32.1" lengthAdjust="spacingAndGlyphs">HLS NDVI</text>
<path d="M323.20,275.10L326.20,278.10M323.20,278.10L326.20,275.10" stroke="#7A7A7A" stroke-width="0.8" fill="none"/>
<path d="M380.20,265.10L383.20,268.10M380.20,268.10L383.20,265.10" stroke="#7A7A7A" stroke-width="0.8" fill="none"/>
<path d="M406.40,256.40L409.40,259.40M406.40,259.40L409.40,256.40" stroke="#7A7A7A" stroke-width="0.8" fill="none"/>
<path d="M441.10,256.40L444.10,259.40M441.10,259.40L444.10,256.40" stroke="#7A7A7A" stroke-width="0.8" fill="none"/>
<path d="M453.30,285.50L456.30,288.50M453.30,288.50L456.30,285.50" stroke="#7A7A7A" stroke-width="0.8" fill="none"/>
<path d="M455.70,306.00L458.70,309.00M455.70,309.00L458.70,306.00" stroke="#7A7A7A" stroke-width="0.8" fill="none"/>
<path d="M423.80,287.70L426.80,290.70M423.80,290.70L426.80,287.70" stroke="#7A7A7A" stroke-width="0.8" fill="none"/>
<path d="M459.00,321.60L462.00,324.60M459.00,324.60L462.00,321.60" stroke="#7A7A7A" stroke-width="0.8" fill="none"/>
<path d="M470.20,286.10L473.20,289.10M470.20,289.10L473.20,286.10" stroke="#7A7A7A" stroke-width="0.8" fill="none"/>
<path d="M474.30,276.70L477.30,279.70M474.30,279.70L477.30,276.70" stroke="#7A7A7A" stroke-width="0.8" fill="none"/>
<path d="M482.60,262.10L485.60,265.10M482.60,265.10L485.60,262.10" stroke="#7A7A7A" stroke-width="0.8" fill="none"/>
<path d="M488.40,260.20L491.40,263.20M488.40,263.20L491.40,260.20" stroke="#7A7A7A" stroke-width="0.8" fill="none"/>
<path d="M494.70,257.80L497.70,260.80M494.70,260.80L497.70,257.80" stroke="#7A7A7A" stroke-width="0.8" fill="none"/>
<path d="M500.30,261.40L503.30,264.40M500.30,264.40L503.30,261.40" stroke="#7A7A7A" stroke-width="0.8" fill="none"/>
<path d="M505.10,297.80L508.10,300.80M505.10,300.80L508.10,297.80" stroke="#7A7A7A" stroke-width="0.8" fill="none"/>
<circle cx="370.70" cy="266.60" r="3.2" stroke="#111" stroke-width="1.35" fill="none"/>
<circle cx="421.40" cy="284.90" r="3.2" stroke="#111" stroke-width="1.35" fill="none"/>
<circle cx="462.80" cy="313.90" r="3.2" stroke="#111" stroke-width="1.35" fill="none"/>
<circle cx="520.60" cy="321.70" r="3.2" stroke="#111" stroke-width="1.35" fill="none"/>
<line x1="361.39" y1="235.50" x2="361.39" y2="347.40" stroke="#FFC000" stroke-width="1.6"/>
<line x1="413.21" y1="235.50" x2="413.21" y2="347.40" stroke="#FF7C84" stroke-width="1.6"/>
<line x1="456.78" y1="235.50" x2="456.78" y2="347.40" stroke="#FF1F28" stroke-width="1.6"/>
<line x1="508.59" y1="235.50" x2="508.59" y2="347.40" stroke="#C8161D" stroke-width="1.6"/>
<path d="M319.20,282.20 C319.88,281.38 321.68,278.97 323.30,277.30 C324.92,275.63 327.05,273.70 328.90,272.20 C330.75,270.70 332.55,269.53 334.40,268.30 C336.25,267.07 338.13,265.97 340.00,264.80 C341.87,263.63 343.87,262.23 345.60,261.30 C347.33,260.38 349.02,259.52 350.40,259.25 C351.78,258.98 352.63,259.24 353.90,259.70 C355.17,260.16 356.62,261.32 358.00,262.00 C359.38,262.68 360.80,263.27 362.20,263.80 C363.60,264.33 365.00,264.80 366.40,265.20 C367.80,265.60 369.22,266.20 370.60,266.20 C371.98,266.20 373.32,265.78 374.70,265.20 C376.08,264.62 377.52,263.58 378.90,262.70 C380.28,261.82 381.62,260.75 383.00,259.90 C384.38,259.05 385.87,258.20 387.20,257.60 C388.53,257.00 389.78,256.72 391.00,256.30 C392.22,255.88 393.30,255.62 394.50,255.10 C395.70,254.58 397.00,253.32 398.20,253.20 C399.40,253.08 400.43,253.50 401.70,254.40 C402.97,255.30 404.42,256.75 405.80,258.60 C407.18,260.45 408.60,262.97 410.00,265.50 C411.40,268.03 412.93,271.13 414.20,273.80 C415.47,276.47 416.57,279.65 417.60,281.50 C418.63,283.35 419.58,284.33 420.40,284.90 C421.22,285.47 421.68,285.47 422.50,284.90 C423.32,284.33 424.15,283.58 425.30,281.50 C426.45,279.42 428.02,275.53 429.40,272.40 C430.78,269.27 432.20,265.47 433.60,262.70 C435.00,259.93 436.53,257.35 437.80,255.80 C439.07,254.25 440.22,253.52 441.25,253.40 C442.28,253.28 443.07,253.78 444.00,255.10 C444.93,256.42 445.87,258.63 446.80,261.30 C447.73,263.97 448.78,268.08 449.60,271.10 C450.42,274.12 451.01,276.63 451.70,279.40 C452.39,282.17 453.07,284.45 453.75,287.70 C454.43,290.95 455.11,295.72 455.80,298.90 C456.49,302.08 457.07,304.52 457.90,306.80 C458.73,309.08 459.95,311.38 460.80,312.60 C461.65,313.82 462.27,314.33 463.00,314.10 C463.73,313.87 464.35,313.13 465.20,311.20 C466.05,309.27 467.13,305.65 468.10,302.50 C469.07,299.35 470.03,295.50 471.00,292.30 C471.97,289.10 472.93,286.13 473.90,283.30 C474.87,280.47 475.83,277.60 476.80,275.30 C477.77,273.00 478.60,271.20 479.70,269.50 C480.80,267.80 482.18,266.43 483.40,265.10 C484.62,263.77 485.67,262.60 487.00,261.50 C488.33,260.40 490.07,258.87 491.40,258.50 C492.73,258.13 493.80,258.57 495.00,259.30 C496.20,260.03 497.38,261.08 498.60,262.90 C499.82,264.72 501.08,267.53 502.30,270.20 C503.52,272.87 504.93,276.35 505.90,278.90 C506.87,281.45 507.37,283.03 508.10,285.50 C508.83,287.97 509.45,290.38 510.30,293.70 C511.15,297.02 512.23,302.00 513.20,305.40 C514.17,308.80 515.13,311.68 516.10,314.10 C517.07,316.52 518.23,318.63 519.00,319.90 C519.77,321.17 519.97,321.58 520.70,321.70 C521.43,321.82 522.47,321.50 523.40,320.60 C524.33,319.70 525.33,317.87 526.30,316.30 C527.27,314.73 528.23,312.78 529.20,311.20 C530.17,309.62 531.05,308.37 532.10,306.80 C533.15,305.23 534.93,302.63 535.50,301.80" stroke="#1E1E1E" stroke-width="1.25" fill="none"/>
<text x="366.19" y="239.20" font-size="8.6" text-anchor="start" fill="#333" stroke="#333" stroke-width="0.3" font-weight="normal" textLength="11.4" lengthAdjust="spacingAndGlyphs">5/7</text>
<text x="418.01" y="239.20" font-size="8.6" text-anchor="start" fill="#333" stroke="#333" stroke-width="0.3" font-weight="normal" textLength="15.9" lengthAdjust="spacingAndGlyphs">6/20</text>
<text x="461.58" y="239.20" font-size="8.6" text-anchor="start" fill="#333" stroke="#333" stroke-width="0.3" font-weight="normal" textLength="15.9" lengthAdjust="spacingAndGlyphs">7/27</text>
<text x="513.39" y="239.20" font-size="8.6" text-anchor="start" fill="#333" stroke="#333" stroke-width="0.3" font-weight="normal" textLength="11.4" lengthAdjust="spacingAndGlyphs">9/9</text>
<text x="367.50" y="278.25" font-size="8.6" text-anchor="start" fill="#333" stroke="#333" stroke-width="0.3" font-weight="normal" textLength="15.9" lengthAdjust="spacingAndGlyphs">5/15</text>
<text x="428.00" y="294.95" font-size="8.6" text-anchor="start" fill="#333" stroke="#333" stroke-width="0.3" font-weight="normal" textLength="15.9" lengthAdjust="spacingAndGlyphs">6/27</text>
<text x="469.50" y="320.35" font-size="8.6" text-anchor="start" fill="#333" stroke="#333" stroke-width="0.3" font-weight="normal" textLength="11.4" lengthAdjust="spacingAndGlyphs">8/1</text>
<text x="527.20" y="325.55" font-size="8.6" text-anchor="start" fill="#333" stroke="#333" stroke-width="0.3" font-weight="normal" textLength="15.9" lengthAdjust="spacingAndGlyphs">9/19</text>
<path d="M315.20,389.30L318.60,392.70M315.20,392.70L318.60,389.30" stroke="#7A7A7A" stroke-width="1.0" fill="none"/>
<text x="323.80" y="393.70" font-size="7.6" text-anchor="start" fill="#383838" stroke="#383838" stroke-width="0.3" font-weight="normal" textLength="12.7" lengthAdjust="spacingAndGlyphs">HLS</text>
<circle cx="375.40" cy="391.00" r="2.2" stroke="#111" stroke-width="1.2" fill="none"/>
<text x="383.00" y="393.70" font-size="7.6" text-anchor="start" fill="#383838" stroke="#383838" stroke-width="0.3" font-weight="normal" textLength="33.1" lengthAdjust="spacingAndGlyphs">Greenups</text>
<line x1="427.80" y1="391.00" x2="440.20" y2="391.00" stroke="#FFC000" stroke-width="2"/>
<text x="441.00" y="393.70" font-size="7.6" text-anchor="start" fill="#383838" stroke="#383838" stroke-width="0.3" font-weight="normal" textLength="35.2" lengthAdjust="spacingAndGlyphs">Harvest_1</text>
<line x1="486.30" y1="391.00" x2="498.70" y2="391.00" stroke="#CC2229" stroke-width="2"/>
<text x="499.50" y="393.70" font-size="7.6" text-anchor="start" fill="#383838" stroke="#383838" stroke-width="0.3" font-weight="normal" textLength="34.7" lengthAdjust="spacingAndGlyphs">Harvest_2</text>
<line x1="311.00" y1="406.80" x2="323.00" y2="406.80" stroke="#FF7C84" stroke-width="2"/>
<text x="323.80" y="409.50" font-size="7.6" text-anchor="start" fill="#383838" stroke="#383838" stroke-width="0.3" font-weight="normal" textLength="35.1" lengthAdjust="spacingAndGlyphs">Harvest_3</text>
<line x1="369.60" y1="406.80" x2="382.00" y2="406.80" stroke="#C8242C" stroke-width="2"/>
<text x="383.00" y="409.50" font-size="7.6" text-anchor="start" fill="#383838" stroke="#383838" stroke-width="0.3" font-weight="normal" textLength="34.4" lengthAdjust="spacingAndGlyphs">Harvest_4</text>
<line x1="427.80" y1="406.80" x2="440.20" y2="406.80" stroke="#595959" stroke-width="2"/>
<text x="441.00" y="409.50" font-size="7.6" text-anchor="start" fill="#383838" stroke="#383838" stroke-width="0.3" font-weight="normal" textLength="33.1" lengthAdjust="spacingAndGlyphs">Gap-filled</text>
<text x="416.90" y="437.60" font-size="11.8" text-anchor="middle" fill="#151515" stroke="#151515" stroke-width="0.12" font-weight="normal" textLength="40.6" lengthAdjust="spacingAndGlyphs">(d) HLS</text>
</svg>
</body></html>
